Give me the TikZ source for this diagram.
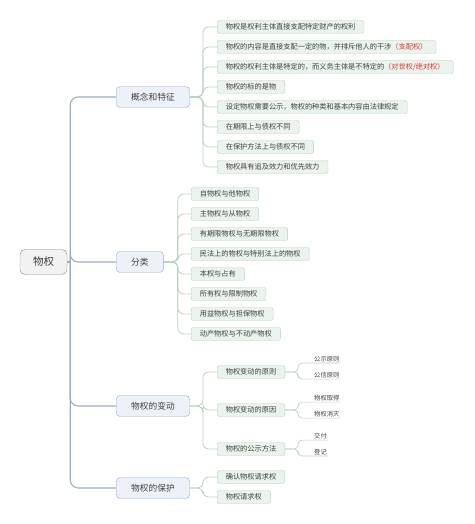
\documentclass[tikz,border=0pt]{standalone}
\usepackage{fontspec}
\setmainfont{Noto Sans CJK SC}
\usetikzlibrary{positioning}
\usepackage{xcolor}
\definecolor{mmroot}{HTML}{F2F2F2}
\definecolor{mmrootline}{HTML}{858585}
\definecolor{mmtopic}{HTML}{EDF2FA}
\definecolor{mmtopicline}{HTML}{98ACC8}
\definecolor{mmleaf}{HTML}{EAF4EC}
\definecolor{mmleafline}{HTML}{B9D2BE}
\definecolor{mmtext}{HTML}{404040}
\definecolor{mmred}{HTML}{E0332E}

\begin{document}
\begin{tikzpicture}[
        x=1pt, y=-1pt,
        node distance=6.6pt,
        root/.style={draw=mmrootline, fill=mmroot, rounded corners=5pt, text=mmtext,
                     font=\fontsize{10.5}{12}\selectfont, minimum width=47pt, minimum height=25pt},
        topic/.style={draw=mmtopicline, fill=mmtopic, rounded corners=4pt, text=mmtext,
                      font=\fontsize{8.7}{10}\selectfont, inner xsep=15pt, minimum height=21pt},
        leaf/.style={draw=mmleafline, fill=mmleaf, rounded corners=2pt, text=mmtext,
                     font=\fontsize{7.2}{8}\selectfont, inner xsep=8.6pt, inner ysep=0pt,
                     minimum height=13pt, text height=5.8pt, text depth=1.2pt},
        sub/.style={text=mmtext, font=\fontsize{6.3}{7}\selectfont, inner xsep=1pt, inner ysep=1pt},
        trunk/.style={draw=mmtopicline, line width=1.1pt, rounded corners=8pt},
        twig/.style={draw=mmleafline, line width=0.8pt, rounded corners=6pt},
        subtwig/.style={draw=mmleafline, line width=0.7pt, rounded corners=4pt},
      ]
        \useasboundingbox (0,0) rectangle (474,524);
        % root and main topics
        \node[root] (root) at (43.5,262) {物权};
        \coordinate (trunk) at ([xshift=3pt]root.east);
        \node[topic, anchor=west] (t1) at (116,97) {概念和特征};
        \node[topic, anchor=west] (t2) at (116,262) {分类};
        \node[topic, anchor=west] (t3) at (116,406) {物权的变动};
        \node[topic, anchor=west] (t4) at (116,488) {物权的保护};

        % concept and features
        \node[leaf, anchor=west] (a1) at (217,27) {物权是权利主体直接支配特定财产的权利};
        \node[leaf, below=of a1.south west, anchor=north west] (a2) {物权的内容是直接支配一定的物，并排斥他人的干涉{\color{mmred}（支配权）}};
        \node[leaf, below=of a2.south west, anchor=north west] (a3) {物权的权利主体是特定的，而义务主体是不特定的{\color{mmred}（对世权/绝对权）}};
        \node[leaf, below=of a3.south west, anchor=north west] (a4) {物权的标的是物};
        \node[leaf, below=of a4.south west, anchor=north west] (a5) {设定物权需要公示，物权的种类和基本内容由法律规定};
        \node[leaf, below=of a5.south west, anchor=north west] (a6) {在期限上与债权不同};
        \node[leaf, below=of a6.south west, anchor=north west] (a7) {在保护方法上与债权不同};
        \node[leaf, below=of a7.south west, anchor=north west] (a8) {物权具有追及效力和优先效力};

        % classification
        \node[leaf, anchor=west] (b1) at (191,194) {自物权与他物权};
        \node[leaf, below=of b1.south west, anchor=north west] (b2) {主物权与从物权};
        \node[leaf, below=of b2.south west, anchor=north west] (b3) {有期限物权与无期限物权};
        \node[leaf, below=of b3.south west, anchor=north west] (b4) {民法上的物权与特别法上的物权};
        \node[leaf, below=of b4.south west, anchor=north west] (b5) {本权与占有};
        \node[leaf, below=of b5.south west, anchor=north west] (b6) {所有权与限制物权};
        \node[leaf, below=of b6.south west, anchor=north west] (b7) {用益物权与担保物权};
        \node[leaf, below=of b7.south west, anchor=north west] (b8) {动产物权与不动产物权};

        % changes
        \node[leaf, anchor=west] (c1) at (217,372) {物权变动的原则};
        \node[leaf, anchor=west] (c2) at (217,410) {物权变动的原因};
        \node[leaf, anchor=west] (c3) at (217,449) {物权的公示方法};
        \node[sub, anchor=west] (g1) at (313,359) {公示原则};
        \node[sub, anchor=west] (g2) at (313,375) {公信原则};
        \node[sub, anchor=west] (g3) at (313,398) {物权取得};
        \node[sub, anchor=west] (g4) at (313,414) {物权消灭};
        \node[sub, anchor=west] (g5) at (313,436) {交付};
        \node[sub, anchor=west] (g6) at (313,452) {登记};

        % protection
        \node[leaf, anchor=west] (d1) at (217,477) {确认物权请求权};
        \node[leaf, below=of d1.south west, anchor=north west] (d2) {物权请求权};

        % connectors
        \draw[trunk] (root.east) -- (trunk);
        \draw[trunk] (trunk) |- (t1.west);
        \draw[trunk] (trunk) |- (t2.west);
        \draw[trunk] (trunk) |- (t3.west);
        \draw[trunk] (trunk) |- (t4.west);

        \draw[twig] (t1.east) -- ++(13pt,0) |- (a1.west);
        \draw[twig] (t1.east) -- ++(13pt,0) |- (a2.west);
        \draw[twig] (t1.east) -- ++(13pt,0) |- (a3.west);
        \draw[twig] (t1.east) -- ++(13pt,0) |- (a4.west);
        \draw[twig] (t1.east) -- ++(13pt,0) |- (a5.west);
        \draw[twig] (t1.east) -- ++(13pt,0) |- (a6.west);
        \draw[twig] (t1.east) -- ++(13pt,0) |- (a7.west);
        \draw[twig] (t1.east) -- ++(13pt,0) |- (a8.west);

        \draw[twig] (t2.east) -- ++(14pt,0) |- (b1.west);
        \draw[twig] (t2.east) -- ++(14pt,0) |- (b2.west);
        \draw[twig] (t2.east) -- ++(14pt,0) |- (b3.west);
        \draw[twig] (t2.east) -- ++(14pt,0) |- (b4.west);
        \draw[twig] (t2.east) -- ++(14pt,0) |- (b5.west);
        \draw[twig] (t2.east) -- ++(14pt,0) |- (b6.west);
        \draw[twig] (t2.east) -- ++(14pt,0) |- (b7.west);
        \draw[twig] (t2.east) -- ++(14pt,0) |- (b8.west);

        \draw[twig] (t3.east) -- ++(13pt,0) |- (c1.west);
        \draw[twig] (t3.east) -- ++(13pt,0) |- (c2.west);
        \draw[twig] (t3.east) -- ++(13pt,0) |- (c3.west);

        \draw[subtwig] (c1.east) -- ++(13pt,0) |- (g1.south west) -- (g1.south east);
        \draw[subtwig] (c1.east) -- ++(13pt,0) |- (g2.south west) -- (g2.south east);
        \draw[subtwig] (c2.east) -- ++(13pt,0) |- (g3.south west) -- (g3.south east);
        \draw[subtwig] (c2.east) -- ++(13pt,0) |- (g4.south west) -- (g4.south east);
        \draw[subtwig] (c3.east) -- ++(13pt,0) |- (g5.south west) -- (g5.south east);
        \draw[subtwig] (c3.east) -- ++(13pt,0) |- (g6.south west) -- (g6.south east);

        \draw[twig] (t4.east) -- ++(13pt,0) |- (d1.west);
        \draw[twig] (t4.east) -- ++(13pt,0) |- (d2.west);
      \end{tikzpicture}
\end{document}
